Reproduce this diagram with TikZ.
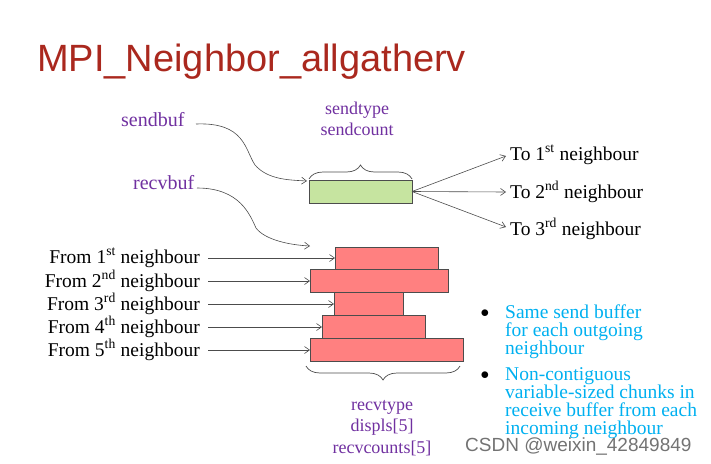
\documentclass[tikz,border=0pt]{standalone}
\usepackage{fontspec}
\setmainfont{Liberation Serif}
\newfontfamily\ttl{Liberation Sans}
\usetikzlibrary{decorations.pathreplacing,arrows.meta}
\definecolor{ptxt}{RGB}{112,48,160}
\definecolor{btxt}{RGB}{0,176,240}
\definecolor{ttl}{RGB}{170,40,30}
\definecolor{rbox}{RGB}{255,128,128}
\definecolor{gbox}{RGB}{198,228,160}
\begin{document}
\begin{tikzpicture}[x=1pt,y=-1pt,
  lbl/.style={font=\fontsize{19.5}{20}\selectfont,inner sep=0pt},
  pl/.style={font=\fontsize{18}{21.5}\selectfont,text=ptxt,inner sep=0pt,align=center},
  buf/.style={draw=black!70,line width=0.7pt},
  arr/.style={-{Straight Barb[length=5pt,width=7pt]},draw=black!70,line width=0.6pt},
  br/.style={decorate,decoration={brace,amplitude=14pt},draw=black!70,line width=0.7pt}]
\useasboundingbox (0,0) rectangle (711,463);
\node[anchor=west,font=\ttl\fontsize{38}{40}\selectfont,text=ttl,inner sep=0pt] (title) at (37,62) {MPI\_Neighbor\_allgatherv};
\path[buf,fill=gbox] (309,180) rectangle (412,203);
\coordinate (gr) at (412,191.5);
\path[buf,fill=rbox] (335,247) rectangle (438,269);
\path[buf,fill=rbox] (310,269) rectangle (448,292);
\path[buf,fill=rbox] (334,292) rectangle (403,315);
\path[buf,fill=rbox] (322,315) rectangle (425,338);
\path[buf,fill=rbox] (310,338) rectangle (463,361);
\foreach \i/\y/\x/\s in {1/258/335/st,2/281/310/nd,3/304/334/rd,4/327/322/th,5/350/310/th}{
  \node[lbl,anchor=east] (f\i) at (200,\y) {From \i\textsuperscript{\s} neighbour};
  \coordinate (r\i) at (\x,\y);
  \draw[arr] (208,\y) -- (r\i);
}
\foreach \i/\y/\s/\e in {1/155/st/156,2/192/nd/192,3/229/rd/227}{
  \node[lbl,anchor=west] (t\i) at (510,\y) {To \i\textsuperscript{\s} neighbour};
  \coordinate (te\i) at (506,\e);
  \draw[arr] (gr) -- (te\i);
}
\draw[br] (309,179) -- (412,179);
\node[pl] (st) at (357,119) {sendtype\\sendcount};
\draw[br] (460,366) -- (306,366);
\node[pl] (rt) at (382,428) {recvtype\\displs[5]\\recvcounts[5]};
\node[pl,anchor=west,font=\fontsize{20}{22}\selectfont] (sb) at (121,120) {sendbuf};
\node[pl,anchor=west,font=\fontsize{20}{22}\selectfont] (rb) at (133,183) {recvbuf};
\coordinate (sa) at (307,181);
\coordinate (ra) at (310,246);
\draw[arr] (196,124) .. controls (245,122) and (245,150) .. (255,165) .. controls (268,180) and (290,180) .. (sa);
\draw[arr] (197,188) .. controls (240,188) and (250,215) .. (256,228) .. controls (265,240) and (290,245) .. (ra);
\node[anchor=north west,font=\fontsize{19.5}{18}\selectfont,text=btxt,inner sep=0pt,align=left] (bl1) at (505,305) {Same send buffer\\for each outgoing\\neighbour};
\node[anchor=north west,font=\fontsize{19.5}{18}\selectfont,text=btxt,inner sep=0pt,align=left] (bl2) at (505,367) {Non-contiguous\\variable-sized chunks in\\receive buffer from each\\incoming neighbour};
\node[font=\fontsize{16}{16}\selectfont,inner sep=0pt] (d1) at (485,314) {$\bullet$};
\node[font=\fontsize{16}{16}\selectfont,inner sep=0pt] (d2) at (485,376) {$\bullet$};
\node[anchor=west,font=\ttl\fontsize{19}{20}\selectfont,text=black!55,inner sep=0pt] (wm) at (465,446) {CSDN @weixin\_42849849};
\end{tikzpicture}
\end{document}
